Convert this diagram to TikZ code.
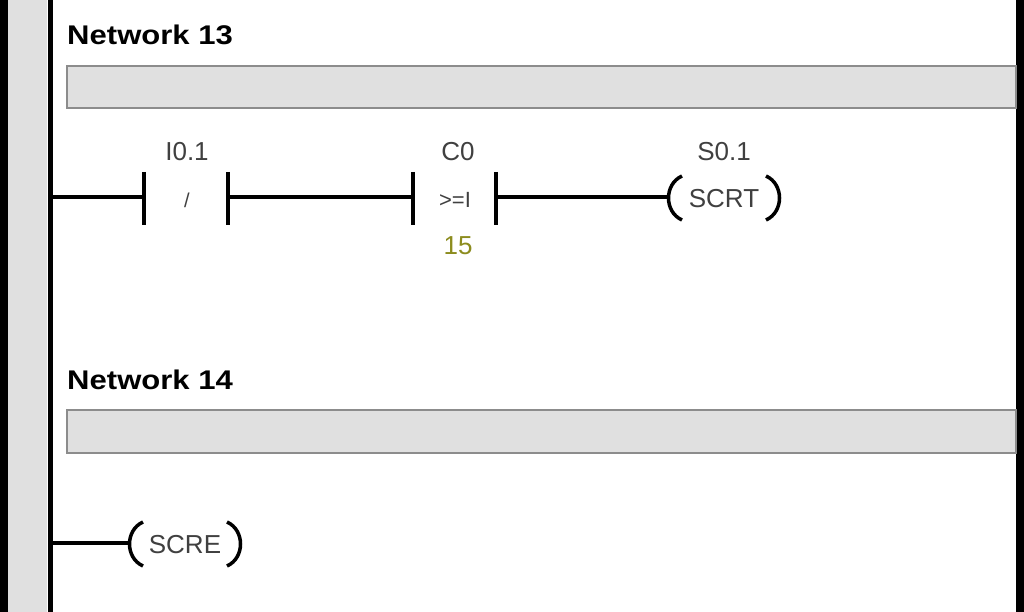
\documentclass[tikz,border=0pt]{standalone}
\usepackage{fontspec}
\setmainfont{Liberation Sans}
\begin{document}
\begin{tikzpicture}[x=1pt,y=-1pt,
  wire/.style={line width=3.5pt},
  lbl/.style={font=\fontsize{26}{28}\selectfont,text=black!75,inner sep=0},
  net/.style={font=\bfseries\fontsize{27}{30}\selectfont,anchor=west,inner sep=0},
  bar/.style={fill=black!12,draw=black!45,line width=2pt},
  par/.style={line width=3.5pt}]
\useasboundingbox (0,0) rectangle (1024,612);
\fill[white] (0,0) rectangle (1024,612);
\fill[black] (0,0) rectangle (8,612);
\fill[black!12] (8,0) rectangle (47,612);
\fill[black] (1016,0) rectangle (1024,612);
\draw[line width=5pt] (50,0) -- (50,612);
% network 13
\node[net,xscale=1.15,transform shape] (n13) at (67,35) {Network 13};
\draw[bar] (67,66) rectangle (1016,108);
\coordinate (r1) at (50,197);
\draw[wire] (r1) -- (144,197);
\draw[wire] (144,172) -- (144,225);
\draw[wire] (228,172) -- (228,225);
\node[lbl] (a1) at (187,152) {I0.1};
\node[lbl,font=\fontsize{20}{22}\selectfont] (s1) at (187,200) {/};
\draw[wire] (228,197) -- (413,197);
\draw[wire] (413,172) -- (413,225);
\draw[wire] (496,172) -- (496,225);
\node[lbl] (a2) at (458,152) {C0};
\node[lbl,font=\fontsize{22}{24}\selectfont] (s2) at (455,200) {>=I};
\node[lbl,text={rgb,255:red,140;green,140;blue,30}] (v2) at (458,246) {15};
\draw[wire] (496,197) -- (667,197);
\draw[par] (682,176) .. controls (664,184) and (664,212) .. (682,220);
\draw[par] (766,176) .. controls (784,184) and (784,212) .. (766,220);
\node[lbl] (c1) at (724,199) {SCRT};
\node[lbl] (a3) at (724,152) {S0.1};
% network 14
\node[net,xscale=1.15,transform shape] (n14) at (67,380) {Network 14};
\draw[bar] (67,410) rectangle (1016,453);
\draw[wire] (50,543) -- (128,543);
\draw[par] (143,522) .. controls (125,530) and (125,558) .. (143,566);
\draw[par] (227,522) .. controls (245,530) and (245,558) .. (227,566);
\node[lbl] (c2) at (185,545) {SCRE};
\end{tikzpicture}
\end{document}
